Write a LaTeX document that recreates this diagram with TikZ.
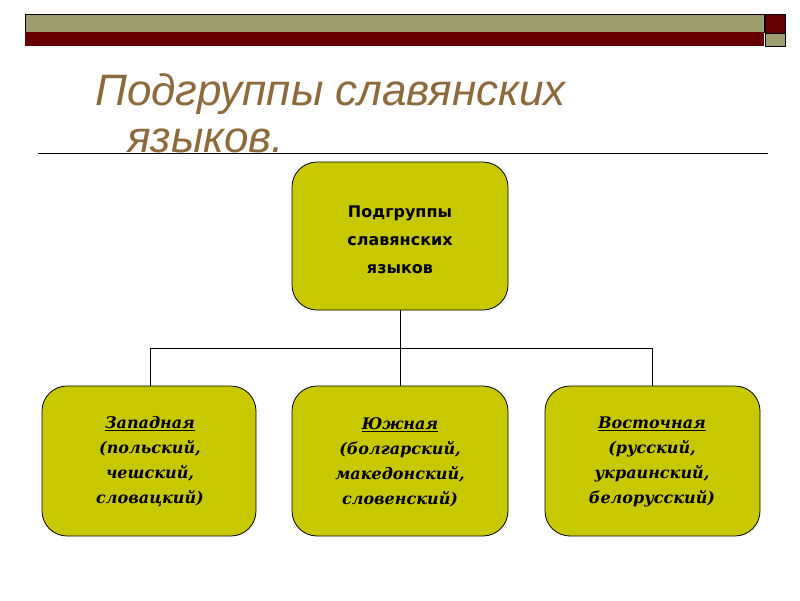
\documentclass[tikz,border=0pt]{standalone}
\usepackage{fontspec}
\setmainfont{DejaVu Sans}
\newfontfamily\titlefont{Liberation Sans}
\newfontfamily\boxfont{DejaVu Serif}
\definecolor{olivebar}{HTML}{9C9C6C}
\definecolor{darkred}{HTML}{660000}
\definecolor{titlebrown}{HTML}{8C6A3C}
\definecolor{boxfill}{HTML}{C8C800}
\begin{document}
\begin{tikzpicture}[x=1pt,y=-1pt,
  box/.style={draw=black,fill=boxfill,rounded corners=25pt,line width=0.8pt},
  lbl/.style={align=center,font=\boxfont\bfseries\itshape\fontsize{16}{25}\selectfont}]
\useasboundingbox (0,0) rectangle (800,600);
\fill[white] (0,0) rectangle (800,600);
\draw[fill=olivebar,line width=0.8pt] (25,14) rectangle (764,32);
\fill[darkred] (25,32) rectangle (764,46);
\draw[fill=darkred,line width=0.8pt] (765,14) rectangle (785,33);
\draw[fill=olivebar,line width=0.8pt] (765,33) rectangle (785,46);
\node[anchor=base west,text=titlebrown,font=\titlefont\itshape\fontsize{44}{44}\selectfont,inner sep=0] (t1) at (95,105) {Подгруппы славянских};
\node[anchor=base west,text=titlebrown,font=\titlefont\itshape\fontsize{44}{44}\selectfont,inner sep=0] (t2) at (127,152) {языков.};
\draw[line width=0.8pt] (38,153) -- (768,153);
\path[box] (292,162) rectangle (508,310);
\path[box] (42,386) rectangle (256,536);
\path[box] (292,386) rectangle (508,536);
\path[box] (545,386) rectangle (760,536);
\coordinate (top) at (400,310);
\coordinate (mid) at (400,348);
\coordinate (l) at (150,348);
\coordinate (r) at (652,348);
\draw[line width=1pt] (top) -- (mid) (l) -- (r) (l) -- (150,386) (mid) -- (400,386) (r) -- (652,386);
\node[align=center,font=\bfseries\fontsize{16}{28}\selectfont] (main) at (400,240) {Подгруппы\\славянских\\языков};
\node[lbl] (w) at (150,462) {\underline{Западная}\\(польский,\\чешский,\\словацкий)};
\node[lbl] (s) at (400,462) {\underline{Южная}\\(болгарский,\\македонский,\\словенский)};
\node[lbl] (e) at (652,462) {\underline{Восточная}\\(русский,\\украинский,\\белорусский)};
\end{tikzpicture}
\end{document}
